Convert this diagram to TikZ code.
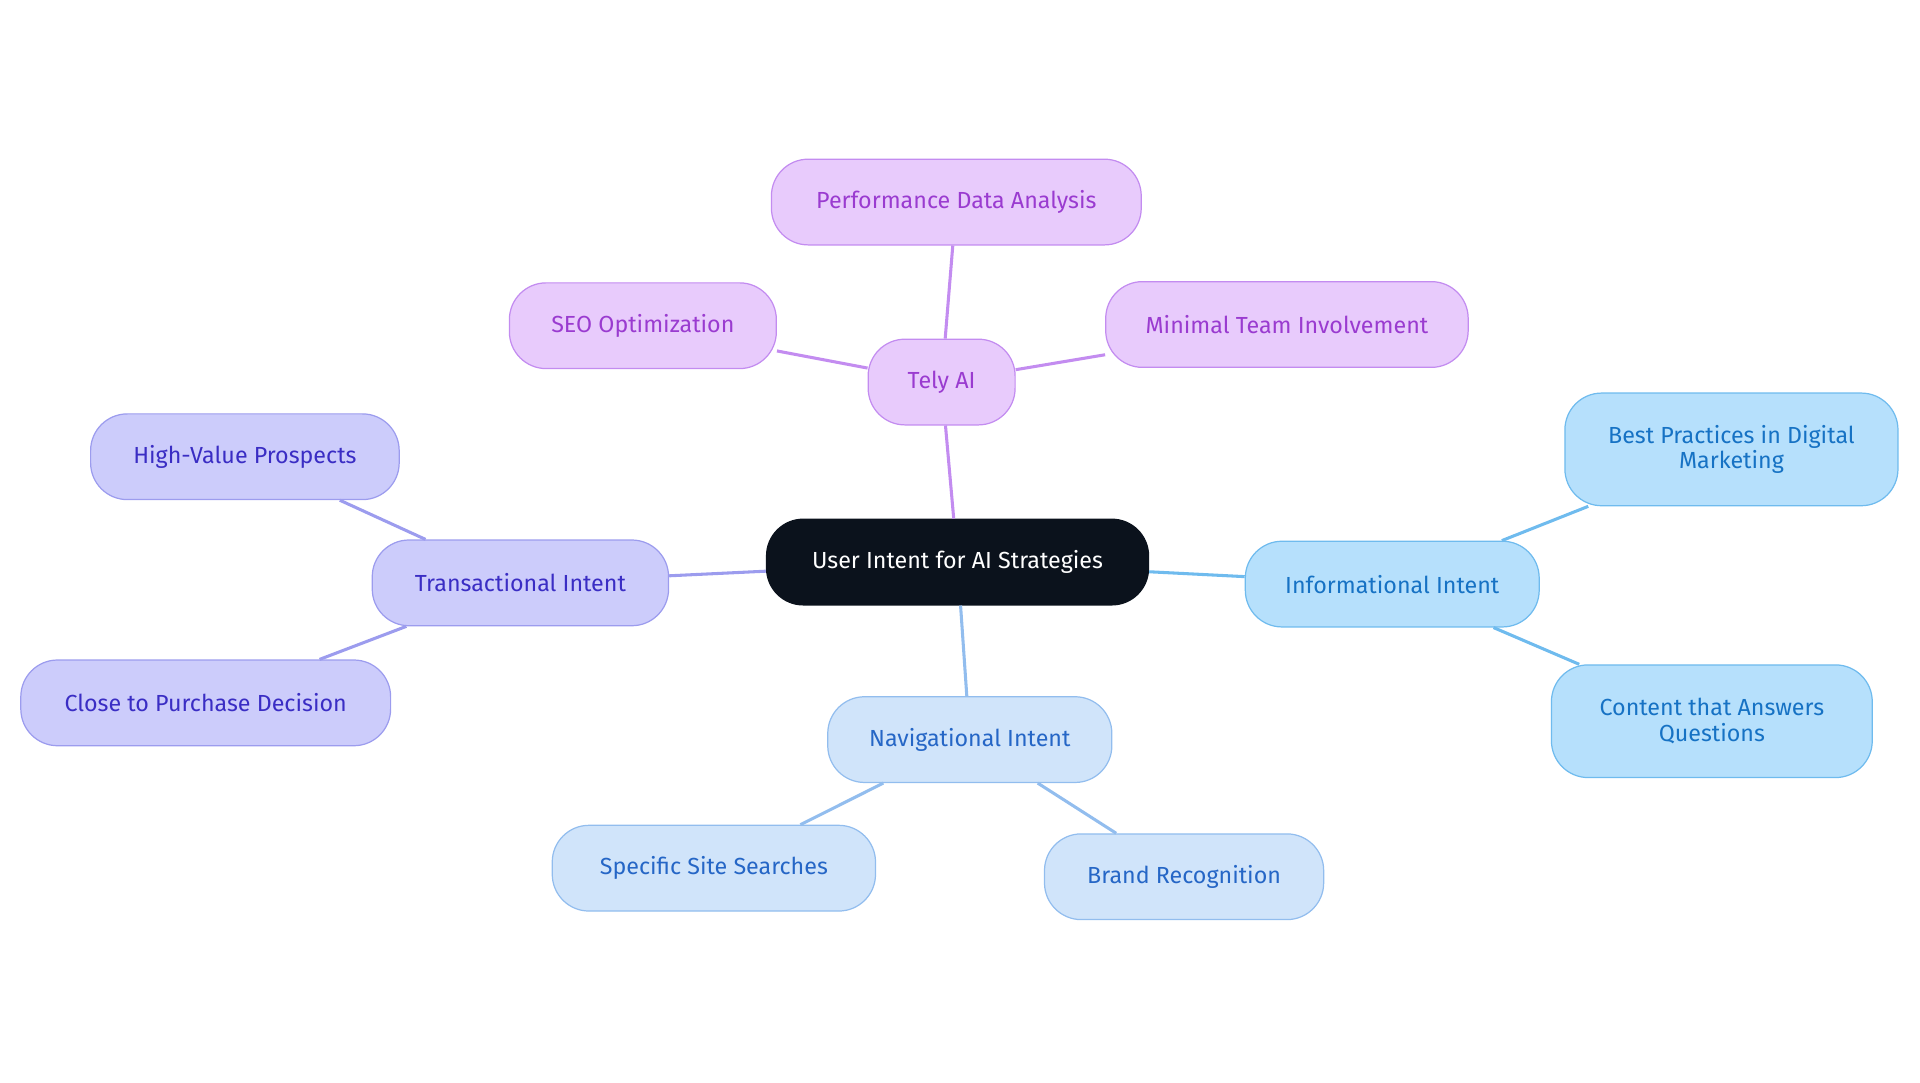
\documentclass[tikz,border=0pt]{standalone}
\usepackage{fontspec}
\setmainfont{Fira Sans}
\definecolor{pfill}{HTML}{E8CBFC}\definecolor{pdraw}{HTML}{C38CF0}\definecolor{ptext}{HTML}{9A3BD0}
\definecolor{tfill}{HTML}{CCCCFB}\definecolor{tdraw}{HTML}{9C9CEE}\definecolor{ttext}{HTML}{3A2DC4}
\definecolor{ifill}{HTML}{B6E0FC}\definecolor{idraw}{HTML}{6FBBEE}\definecolor{itext}{HTML}{1672C4}
\definecolor{nfill}{HTML}{D0E4FA}\definecolor{ndraw}{HTML}{92BDEE}\definecolor{ntext}{HTML}{2566C6}
\definecolor{cfill}{HTML}{0B121C}
\tikzset{
 box/.style={draw, line width=1pt, rounded corners=30pt, minimum height=70pt, align=center, font=\fontsize{19}{21}\selectfont, inner sep=0pt},
 pbox/.style={box, fill=pfill, draw=pdraw, text=ptext},
 tbox/.style={box, fill=tfill, draw=tdraw, text=ttext},
 ibox/.style={box, fill=ifill, draw=idraw, text=itext},
 nbox/.style={box, fill=nfill, draw=ndraw, text=ntext},
 pl/.style={draw=pdraw, line width=2.5pt},
 tl/.style={draw=tdraw, line width=2.5pt},
 il/.style={draw=idraw, line width=2.5pt},
 nl/.style={draw=ndraw, line width=2.5pt},
}
\begin{document}
\begin{tikzpicture}[x=1pt,y=-1pt]
\useasboundingbox (0,0) rectangle (1568,884);
\node[box, fill=cfill, draw=cfill, text=white, minimum width=312pt] (c) at (782,459) {User Intent for AI Strategies};
\node[pbox, minimum width=120pt] (tely) at (769,312) {Tely AI};
\node[pbox, minimum width=302pt] (pda) at (781,165) {Performance Data Analysis};
\node[pbox, minimum width=218pt] (seo) at (525,266) {SEO Optimization};
\node[pbox, minimum width=296pt] (mti) at (1051,265) {Minimal Team Involvement};
\node[tbox, minimum width=242pt] (tr) at (425,476) {Transactional Intent};
\node[tbox, minimum width=252pt] (hv) at (200,373) {High-Value Prospects};
\node[tbox, minimum width=302pt] (cp) at (168,574) {Close to Purchase Decision};
\node[ibox, minimum width=240pt] (inf) at (1137,477) {Informational Intent};
\node[ibox, minimum width=272pt, minimum height=92pt] (bp) at (1414,367) {Best Practices in Digital\\Marketing};
\node[ibox, minimum width=262pt, minimum height=92pt] (ca) at (1398,589) {Content that Answers\\Questions};
\node[nbox, minimum width=232pt] (nav) at (792,604) {Navigational Intent};
\node[nbox, minimum width=264pt] (ss) at (583,709) {Specific Site Searches};
\node[nbox, minimum width=228pt] (br) at (967,716) {Brand Recognition};
\begin{scope}[on background layer/.try]
\end{scope}
\path[pl] (c) -- (tely) (tely) -- (pda) (tely) -- (seo) (tely) -- (mti);
\path[tl] (c) -- (tr) (tr) -- (hv) (tr) -- (cp);
\path[il] (c) -- (inf) (inf) -- (bp) (inf) -- (ca);
\path[nl] (c) -- (nav) (nav) -- (ss) (nav) -- (br);
\end{tikzpicture}
\end{document}
